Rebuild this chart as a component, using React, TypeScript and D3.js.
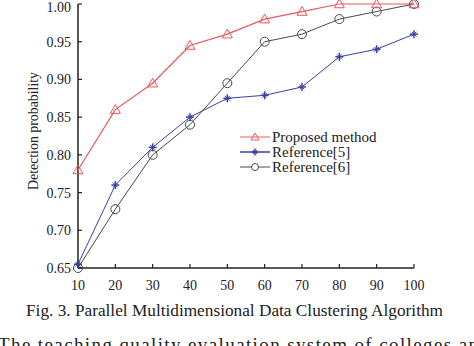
import React from "react";
import * as d3 from "d3";

const xValues = [10, 20, 30, 40, 50, 60, 70, 80, 90, 100];
const proposed = [0.78, 0.86, 0.895, 0.945, 0.96, 0.98, 0.99, 1.0, 1.0, 1.0];
const ref5 = [0.655, 0.76, 0.81, 0.85, 0.875, 0.879, 0.89, 0.93, 0.94, 0.96];
const ref6 = [0.65, 0.728, 0.8, 0.84, 0.895, 0.95, 0.96, 0.98, 0.99, 1.0];
const yTicks = [0.65, 0.7, 0.75, 0.8, 0.85, 0.9, 0.95, 1.0];
const seriesNames = ["Proposed method", "Reference[5]", "Reference[6]"];

const W = 474;
const H = 346;
const FONT = "'Liberation Serif', 'DejaVu Serif', serif";

export default function App() {
  const x = d3.scaleLinear().domain([10, 100]).range([78, 414]);
  const y = d3.scaleLinear().domain([0.65, 1.0]).range([268, 4]);

  const line = d3
    .line<number>()
    .x((_, i) => x(xValues[i]))
    .y((d) => y(d));

  const red = "#e8585c";
  const blue = "#3b3fa6";
  const gray = "#4a4a4a";

  const tri = (cx: number, cy: number, s = 5) =>
    `M${cx},${cy - s} L${cx + s},${cy + s * 0.75} L${cx - s},${cy + s * 0.75} Z`;

  const star = (cx: number, cy: number, key: string, s = 4) => (
    <g key={key} stroke={blue} strokeWidth={1.5}>
      <line x1={cx - s} y1={cy} x2={cx + s} y2={cy} />
      <line x1={cx} y1={cy - s} x2={cx} y2={cy + s} />
      <line x1={cx - s * 0.6} y1={cy - s * 0.6} x2={cx + s * 0.6} y2={cy + s * 0.6} strokeWidth={1} />
      <line x1={cx - s * 0.6} y1={cy + s * 0.6} x2={cx + s * 0.6} y2={cy - s * 0.6} strokeWidth={1} />
    </g>
  );

  const legendX = 240;
  const legendY = [137, 152, 167];

  return (
    <svg width={W} height={H} style={{ position: "absolute", left: 0, top: 0, background: "#fff" }}>
      <rect width={W} height={H} fill="#fff" />
      {/* axes */}
      <line x1={78} y1={y(1.0)} x2={78} y2={268} stroke="#222" strokeWidth={1.5} />
      <line x1={78} y1={268} x2={414} y2={268} stroke="#222" strokeWidth={1.5} />
      {yTicks.map((t) => (
        <g key={t}>
          <line x1={78} x2={82} y1={y(t)} y2={y(t)} stroke="#222" strokeWidth={1.2} />
          <text
            x={71}
            y={t === 1.0 ? y(t) + 7.5 : y(t) + 5}
            textAnchor="end"
            fontFamily={FONT}
            fontSize={14}
            fill="#222"
          >
            {t.toFixed(2)}
          </text>
        </g>
      ))}
      {xValues.map((t) => (
        <g key={t}>
          <line x1={x(t)} x2={x(t)} y1={268} y2={264} stroke="#222" strokeWidth={1.2} />
          <text x={x(t)} y={290} textAnchor="middle" fontFamily={FONT} fontSize={14} fill="#222">
            {t}
          </text>
        </g>
      ))}
      <text
        transform={`translate(38,131) rotate(-90)`}
        textAnchor="middle"
        fontFamily={FONT}
        fontSize={14}
        fill="#222"
        textLength={118}
        lengthAdjust="spacingAndGlyphs"
      >
        Detection probability
      </text>

      {/* series */}
      <path d={line(ref5) || ""} fill="none" stroke={blue} strokeWidth={1} />
      <path d={line(ref6) || ""} fill="none" stroke={gray} strokeWidth={1} />
      <path d={line(proposed) || ""} fill="none" stroke={red} strokeWidth={1.2} />
      {ref5.map((v, i) => star(x(xValues[i]), y(v), "s" + i))}
      {ref6.map((v, i) => (
        <circle key={"c" + i} cx={x(xValues[i])} cy={y(v)} r={4.5} fill="none" stroke={gray} strokeWidth={1} />
      ))}
      {proposed.map((v, i) => (
        <path key={"t" + i} d={tri(x(xValues[i]), y(v))} fill="none" stroke={red} strokeWidth={1} />
      ))}

      {/* legend */}
      <line x1={legendX} x2={legendX + 30} y1={legendY[0]} y2={legendY[0]} stroke={red} strokeWidth={1} />
      <path d={tri(legendX + 15, legendY[0], 4)} fill="none" stroke={red} strokeWidth={1} />
      <line x1={legendX} x2={legendX + 30} y1={legendY[1]} y2={legendY[1]} stroke={blue} strokeWidth={1.5} />
      {star(legendX + 15, legendY[1], "ls", 3.5)}
      <line x1={legendX} x2={legendX + 30} y1={legendY[2]} y2={legendY[2]} stroke={gray} strokeWidth={1} />
      <circle cx={legendX + 15} cy={legendY[2]} r={3.5} fill="#fff" stroke={gray} strokeWidth={1} />
      {seriesNames.map((n, i) => (
        <text
          key={n}
          x={legendX + 32}
          y={legendY[i] + 5}
          fontFamily={FONT}
          fontSize={15}
          fill="#222"
        >
          {n}
        </text>
      ))}

      {/* caption */}
      <text
        x={26}
        y={316}
        fontFamily={FONT}
        fontSize={16}
        fill="#222"
        textLength={417}
        lengthAdjust="spacingAndGlyphs"
      >
        Fig. 3. Parallel Multidimensional Data Clustering Algorithm
      </text>
      <text
        x={-2}
        y={351}
        fontFamily={FONT}
        fontSize={19}
        fill="#222"
        textLength={480}
        lengthAdjust="spacing"
      >
        The teaching quality evaluation system of colleges an
      </text>
    </svg>
  );
}
